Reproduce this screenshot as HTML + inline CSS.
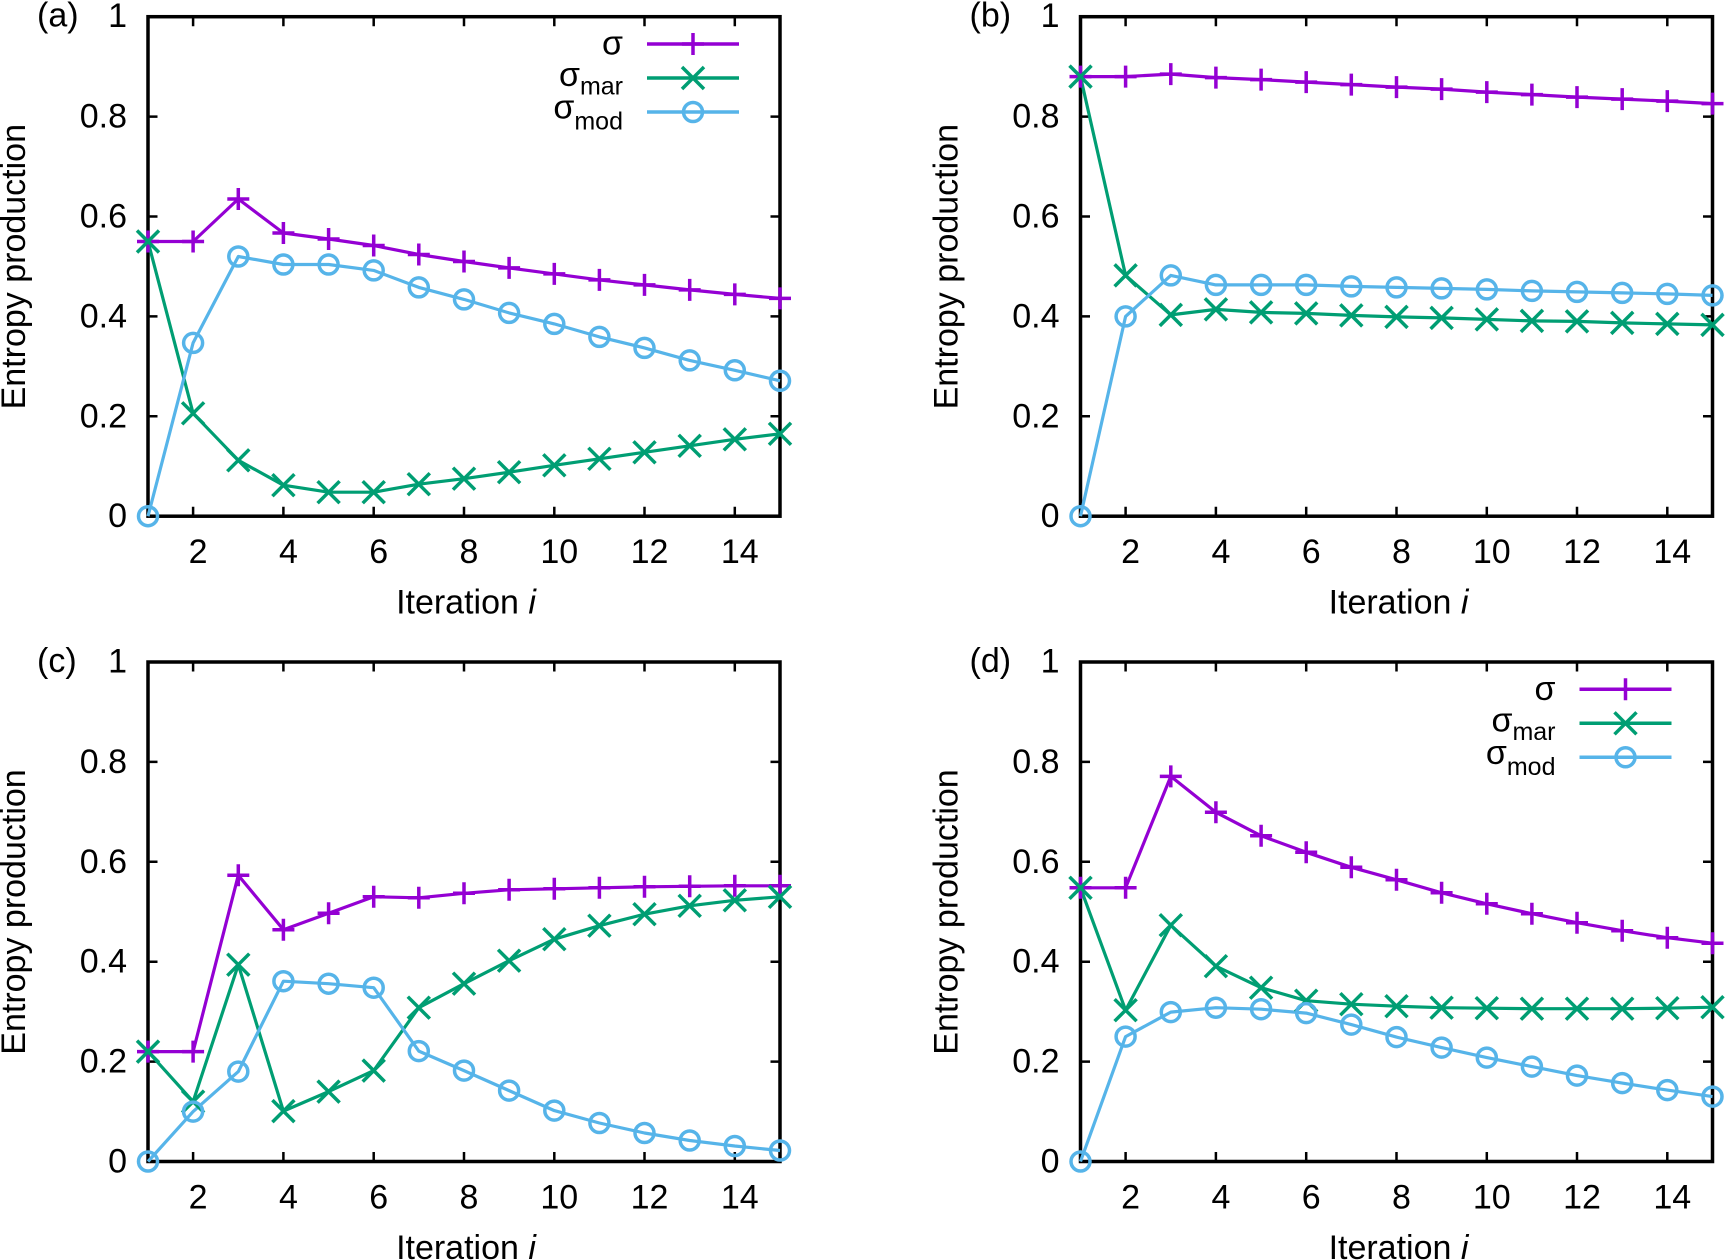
<!DOCTYPE html>
<html>
<head>
<meta charset="utf-8">
<style>
html,body{margin:0;padding:0;background:#fff;}
svg{display:block;}
text{font-family:"Liberation Sans",Arial,sans-serif;font-size:34px;fill:#000;}
</style>
</head>
<body>
<svg width="1725" height="1260" viewBox="0 0 1725 1260" xmlns="http://www.w3.org/2000/svg">
<defs>
  <path id="pl" d="M-11,0H11M0,-11V11" fill="none"/>
  <path id="cr" d="M-11,-11L11,11M-11,11L11,-11" fill="none"/>
  <circle id="ci" r="9.5" cx="0" cy="0" fill="none"/>
  <g id="frame">
    <rect x="0" y="0" width="632" height="499.5" fill="none" stroke="#000" stroke-width="3.5"/>
    <path d="M45.1,499.5V490M135.4,499.5V490M225.7,499.5V490M316,499.5V490M406.3,499.5V490M496.5,499.5V490M586.8,499.5V490
             M45.1,0V9.5M135.4,0V9.5M225.7,0V9.5M316,0V9.5M406.3,0V9.5M496.5,0V9.5M586.8,0V9.5
             M0,399.6H9.5M0,299.7H9.5M0,199.8H9.5M0,99.9H9.5
             M632,399.6H622.5M632,299.7H622.5M632,199.8H622.5M632,99.9H622.5" stroke="#000" stroke-width="2.5" fill="none"/>
    <g text-anchor="end">
      <text x="-21" y="510.5">0</text>
      <text x="-21" y="410.6">0.2</text>
      <text x="-21" y="310.7">0.4</text>
      <text x="-21" y="210.8">0.6</text>
      <text x="-21" y="110.9">0.8</text>
      <text x="-21" y="10.5">1</text>
    </g>
    <g text-anchor="middle">
      <text x="50.1" y="546.5">2</text>
      <text x="140.4" y="546.5">4</text>
      <text x="230.7" y="546.5">6</text>
      <text x="321" y="546.5">8</text>
      <text x="411.3" y="546.5">10</text>
      <text x="501.5" y="546.5">12</text>
      <text x="591.8" y="546.5">14</text>
      <text x="318" y="597">Iteration <tspan font-style="italic">i</tspan></text>
      <text transform="translate(-123,250) rotate(-90)">Entropy production</text>
    </g>
  </g>
  <g id="legend">
    <g text-anchor="end">
      <text x="475" y="38">σ</text>
      <text x="475" y="69.5">σ<tspan font-size="25" dy="8.5">mar</tspan></text>
      <text x="475" y="102">σ<tspan font-size="25" dy="11">mod</tspan></text>
    </g>
    <path d="M499,27.3H591" stroke="#9400d3" stroke-width="3.5"/>
    <use href="#pl" x="545" y="27.3" stroke="#9400d3" stroke-width="3.5"/>
    <path d="M499,61.3H591" stroke="#009e73" stroke-width="3.5"/>
    <use href="#cr" x="545" y="61.3" stroke="#009e73" stroke-width="3.5"/>
    <path d="M499,95.3H591" stroke="#56b4e9" stroke-width="3.5"/>
    <use href="#ci" x="545" y="95.3" stroke="#56b4e9" stroke-width="3.5"/>
  </g>
</defs>

<!-- Panel (a) -->
<g transform="translate(148,16.7)">
  <use href="#frame"/>
  <text x="-111" y="10">(a)</text>
  <use href="#legend"/>
  <g fill="none" stroke-width="3.2" stroke-linejoin="round">
    <polyline stroke="#9400d3" points="0,224.8 45.1,224.8 90.3,182.3 135.4,216.3 180.6,222.3 225.7,228.8 270.8,237.8 316,244.8 361.1,251.2 406.3,257.2 451.4,263.2 496.5,268.2 541.7,273.2 586.8,277.7 632,281.7"/>
    <polyline stroke="#009e73" points="0,224.8 45.1,396.6 90.3,443.6 135.4,468.5 180.6,475.5 225.7,475.5 270.8,467.5 316,462 361.1,455.5 406.3,448.6 451.4,442.1 496.5,435.6 541.7,429.1 586.8,422.6 632,417.1"/>
    <polyline stroke="#56b4e9" points="0,499.5 45.1,326.2 90.3,239.8 135.4,247.8 180.6,247.8 225.7,253.7 270.8,270.7 316,282.7 361.1,296.2 406.3,307.2 451.4,320.2 496.5,331.2 541.7,343.7 586.8,353.6 632,364.1"/>
  </g>
  <g stroke="#9400d3" stroke-width="3.5">
    <use href="#pl" x="0" y="224.8"/><use href="#pl" x="45.1" y="224.8"/><use href="#pl" x="90.3" y="182.3"/><use href="#pl" x="135.4" y="216.3"/><use href="#pl" x="180.6" y="222.3"/><use href="#pl" x="225.7" y="228.8"/><use href="#pl" x="270.8" y="237.8"/><use href="#pl" x="316" y="244.8"/><use href="#pl" x="361.1" y="251.2"/><use href="#pl" x="406.3" y="257.2"/><use href="#pl" x="451.4" y="263.2"/><use href="#pl" x="496.5" y="268.2"/><use href="#pl" x="541.7" y="273.2"/><use href="#pl" x="586.8" y="277.7"/><use href="#pl" x="632" y="281.7"/>
  </g>
  <g stroke="#009e73" stroke-width="3.5">
    <use href="#cr" x="0" y="224.8"/><use href="#cr" x="45.1" y="396.6"/><use href="#cr" x="90.3" y="443.6"/><use href="#cr" x="135.4" y="468.5"/><use href="#cr" x="180.6" y="475.5"/><use href="#cr" x="225.7" y="475.5"/><use href="#cr" x="270.8" y="467.5"/><use href="#cr" x="316" y="462"/><use href="#cr" x="361.1" y="455.5"/><use href="#cr" x="406.3" y="448.6"/><use href="#cr" x="451.4" y="442.1"/><use href="#cr" x="496.5" y="435.6"/><use href="#cr" x="541.7" y="429.1"/><use href="#cr" x="586.8" y="422.6"/><use href="#cr" x="632" y="417.1"/>
  </g>
  <g stroke="#56b4e9" stroke-width="3.5">
    <use href="#ci" x="0" y="499.5"/><use href="#ci" x="45.1" y="326.2"/><use href="#ci" x="90.3" y="239.8"/><use href="#ci" x="135.4" y="247.8"/><use href="#ci" x="180.6" y="247.8"/><use href="#ci" x="225.7" y="253.7"/><use href="#ci" x="270.8" y="270.7"/><use href="#ci" x="316" y="282.7"/><use href="#ci" x="361.1" y="296.2"/><use href="#ci" x="406.3" y="307.2"/><use href="#ci" x="451.4" y="320.2"/><use href="#ci" x="496.5" y="331.2"/><use href="#ci" x="541.7" y="343.7"/><use href="#ci" x="586.8" y="353.6"/><use href="#ci" x="632" y="364.1"/>
  </g>
</g>

<!-- Panel (b) -->
<g transform="translate(1080.5,16.7)">
  <use href="#frame"/>
  <text x="-111" y="10">(b)</text>
  <g fill="none" stroke-width="3.2" stroke-linejoin="round">
    <polyline stroke="#9400d3" points="0,59.9 45.1,59.9 90.3,57.4 135.4,60.9 180.6,62.9 225.7,65.4 270.8,67.9 316,70.4 361.1,72.4 406.3,75.4 451.4,77.9 496.5,80.4 541.7,82.4 586.8,84.4 632,86.9"/>
    <polyline stroke="#009e73" points="0,59.9 45.1,258.7 90.3,298.2 135.4,292.7 180.6,295.7 225.7,296.7 270.8,298.7 316,300.2 361.1,301.2 406.3,302.7 451.4,304.2 496.5,304.7 541.7,306.2 586.8,307.2 632,308.2"/>
    <polyline stroke="#56b4e9" points="0,499.5 45.1,299.7 90.3,258.7 135.4,268.2 180.6,268.2 225.7,268.2 270.8,269.7 316,270.7 361.1,271.7 406.3,272.7 451.4,274.2 496.5,275.2 541.7,276.2 586.8,277.2 632,278.7"/>
  </g>
  <g stroke="#9400d3" stroke-width="3.5">
    <use href="#pl" x="0" y="59.9"/><use href="#pl" x="45.1" y="59.9"/><use href="#pl" x="90.3" y="57.4"/><use href="#pl" x="135.4" y="60.9"/><use href="#pl" x="180.6" y="62.9"/><use href="#pl" x="225.7" y="65.4"/><use href="#pl" x="270.8" y="67.9"/><use href="#pl" x="316" y="70.4"/><use href="#pl" x="361.1" y="72.4"/><use href="#pl" x="406.3" y="75.4"/><use href="#pl" x="451.4" y="77.9"/><use href="#pl" x="496.5" y="80.4"/><use href="#pl" x="541.7" y="82.4"/><use href="#pl" x="586.8" y="84.4"/><use href="#pl" x="632" y="86.9"/>
  </g>
  <g stroke="#009e73" stroke-width="3.5">
    <use href="#cr" x="0" y="59.9"/><use href="#cr" x="45.1" y="258.7"/><use href="#cr" x="90.3" y="298.2"/><use href="#cr" x="135.4" y="292.7"/><use href="#cr" x="180.6" y="295.7"/><use href="#cr" x="225.7" y="296.7"/><use href="#cr" x="270.8" y="298.7"/><use href="#cr" x="316" y="300.2"/><use href="#cr" x="361.1" y="301.2"/><use href="#cr" x="406.3" y="302.7"/><use href="#cr" x="451.4" y="304.2"/><use href="#cr" x="496.5" y="304.7"/><use href="#cr" x="541.7" y="306.2"/><use href="#cr" x="586.8" y="307.2"/><use href="#cr" x="632" y="308.2"/>
  </g>
  <g stroke="#56b4e9" stroke-width="3.5">
    <use href="#ci" x="0" y="499.5"/><use href="#ci" x="45.1" y="299.7"/><use href="#ci" x="90.3" y="258.7"/><use href="#ci" x="135.4" y="268.2"/><use href="#ci" x="180.6" y="268.2"/><use href="#ci" x="225.7" y="268.2"/><use href="#ci" x="270.8" y="269.7"/><use href="#ci" x="316" y="270.7"/><use href="#ci" x="361.1" y="271.7"/><use href="#ci" x="406.3" y="272.7"/><use href="#ci" x="451.4" y="274.2"/><use href="#ci" x="496.5" y="275.2"/><use href="#ci" x="541.7" y="276.2"/><use href="#ci" x="586.8" y="277.2"/><use href="#ci" x="632" y="278.7"/>
  </g>
</g>

<!-- Panel (c) -->
<g transform="translate(148,662)">
  <use href="#frame"/>
  <text x="-111" y="10">(c)</text>
  <g fill="none" stroke-width="3.2" stroke-linejoin="round">
    <polyline stroke="#9400d3" points="0,389.6 45.1,389.6 90.3,213.3 135.4,267.7 180.6,251.2 225.7,234.8 270.8,235.8 316,231.3 361.1,227.8 406.3,226.8 451.4,225.8 496.5,224.8 541.7,224.3 586.8,223.8 632,223.8"/>
    <polyline stroke="#009e73" points="0,389.6 45.1,439.6 90.3,302.7 135.4,449.1 180.6,429.6 225.7,408.6 270.8,345.7 316,321.7 361.1,298.7 406.3,277.2 451.4,263.7 496.5,252.2 541.7,243.8 586.8,238.3 632,234.8"/>
    <polyline stroke="#56b4e9" points="0,499.5 45.1,449.6 90.3,409.6 135.4,319.2 180.6,321.7 225.7,325.7 270.8,389.1 316,408.6 361.1,428.6 406.3,448.6 451.4,461 496.5,471 541.7,478.5 586.8,484 632,488.5"/>
  </g>
  <g stroke="#9400d3" stroke-width="3.5">
    <use href="#pl" x="0" y="389.6"/><use href="#pl" x="45.1" y="389.6"/><use href="#pl" x="90.3" y="213.3"/><use href="#pl" x="135.4" y="267.7"/><use href="#pl" x="180.6" y="251.2"/><use href="#pl" x="225.7" y="234.8"/><use href="#pl" x="270.8" y="235.8"/><use href="#pl" x="316" y="231.3"/><use href="#pl" x="361.1" y="227.8"/><use href="#pl" x="406.3" y="226.8"/><use href="#pl" x="451.4" y="225.8"/><use href="#pl" x="496.5" y="224.8"/><use href="#pl" x="541.7" y="224.3"/><use href="#pl" x="586.8" y="223.8"/><use href="#pl" x="632" y="223.8"/>
  </g>
  <g stroke="#009e73" stroke-width="3.5">
    <use href="#cr" x="0" y="389.6"/><use href="#cr" x="45.1" y="439.6"/><use href="#cr" x="90.3" y="302.7"/><use href="#cr" x="135.4" y="449.1"/><use href="#cr" x="180.6" y="429.6"/><use href="#cr" x="225.7" y="408.6"/><use href="#cr" x="270.8" y="345.7"/><use href="#cr" x="316" y="321.7"/><use href="#cr" x="361.1" y="298.7"/><use href="#cr" x="406.3" y="277.2"/><use href="#cr" x="451.4" y="263.7"/><use href="#cr" x="496.5" y="252.2"/><use href="#cr" x="541.7" y="243.8"/><use href="#cr" x="586.8" y="238.3"/><use href="#cr" x="632" y="234.8"/>
  </g>
  <g stroke="#56b4e9" stroke-width="3.5">
    <use href="#ci" x="0" y="499.5"/><use href="#ci" x="45.1" y="449.6"/><use href="#ci" x="90.3" y="409.6"/><use href="#ci" x="135.4" y="319.2"/><use href="#ci" x="180.6" y="321.7"/><use href="#ci" x="225.7" y="325.7"/><use href="#ci" x="270.8" y="389.1"/><use href="#ci" x="316" y="408.6"/><use href="#ci" x="361.1" y="428.6"/><use href="#ci" x="406.3" y="448.6"/><use href="#ci" x="451.4" y="461"/><use href="#ci" x="496.5" y="471"/><use href="#ci" x="541.7" y="478.5"/><use href="#ci" x="586.8" y="484"/><use href="#ci" x="632" y="488.5"/>
  </g>
</g>

<!-- Panel (d) -->
<g transform="translate(1080.5,662)">
  <use href="#frame"/>
  <text x="-111" y="10">(d)</text>
  <use href="#legend"/>
  <g fill="none" stroke-width="3.2" stroke-linejoin="round">
    <polyline stroke="#9400d3" points="0,225.8 45.1,225.8 90.3,114.4 135.4,150.3 180.6,173.8 225.7,190.3 270.8,205.3 316,217.8 361.1,230.8 406.3,241.8 451.4,251.7 496.5,260.7 541.7,268.7 586.8,275.7 632,281.2"/>
    <polyline stroke="#009e73" points="0,225.8 45.1,348.2 90.3,263.2 135.4,304.2 180.6,325.7 225.7,338.7 270.8,342.2 316,344.2 361.1,345.7 406.3,346.2 451.4,346.7 496.5,346.7 541.7,346.7 586.8,346.2 632,345.2"/>
    <polyline stroke="#56b4e9" points="0,499.5 45.1,374.6 90.3,350.1 135.4,345.7 180.6,347.2 225.7,351.1 270.8,362.6 316,375.1 361.1,385.6 406.3,395.6 451.4,404.6 496.5,413.6 541.7,421.1 586.8,428.1 632,434.6"/>
  </g>
  <g stroke="#9400d3" stroke-width="3.5">
    <use href="#pl" x="0" y="225.8"/><use href="#pl" x="45.1" y="225.8"/><use href="#pl" x="90.3" y="114.4"/><use href="#pl" x="135.4" y="150.3"/><use href="#pl" x="180.6" y="173.8"/><use href="#pl" x="225.7" y="190.3"/><use href="#pl" x="270.8" y="205.3"/><use href="#pl" x="316" y="217.8"/><use href="#pl" x="361.1" y="230.8"/><use href="#pl" x="406.3" y="241.8"/><use href="#pl" x="451.4" y="251.7"/><use href="#pl" x="496.5" y="260.7"/><use href="#pl" x="541.7" y="268.7"/><use href="#pl" x="586.8" y="275.7"/><use href="#pl" x="632" y="281.2"/>
  </g>
  <g stroke="#009e73" stroke-width="3.5">
    <use href="#cr" x="0" y="225.8"/><use href="#cr" x="45.1" y="348.2"/><use href="#cr" x="90.3" y="263.2"/><use href="#cr" x="135.4" y="304.2"/><use href="#cr" x="180.6" y="325.7"/><use href="#cr" x="225.7" y="338.7"/><use href="#cr" x="270.8" y="342.2"/><use href="#cr" x="316" y="344.2"/><use href="#cr" x="361.1" y="345.7"/><use href="#cr" x="406.3" y="346.2"/><use href="#cr" x="451.4" y="346.7"/><use href="#cr" x="496.5" y="346.7"/><use href="#cr" x="541.7" y="346.7"/><use href="#cr" x="586.8" y="346.2"/><use href="#cr" x="632" y="345.2"/>
  </g>
  <g stroke="#56b4e9" stroke-width="3.5">
    <use href="#ci" x="0" y="499.5"/><use href="#ci" x="45.1" y="374.6"/><use href="#ci" x="90.3" y="350.1"/><use href="#ci" x="135.4" y="345.7"/><use href="#ci" x="180.6" y="347.2"/><use href="#ci" x="225.7" y="351.1"/><use href="#ci" x="270.8" y="362.6"/><use href="#ci" x="316" y="375.1"/><use href="#ci" x="361.1" y="385.6"/><use href="#ci" x="406.3" y="395.6"/><use href="#ci" x="451.4" y="404.6"/><use href="#ci" x="496.5" y="413.6"/><use href="#ci" x="541.7" y="421.1"/><use href="#ci" x="586.8" y="428.1"/><use href="#ci" x="632" y="434.6"/>
  </g>
</g>
</svg>
</body>
</html>
